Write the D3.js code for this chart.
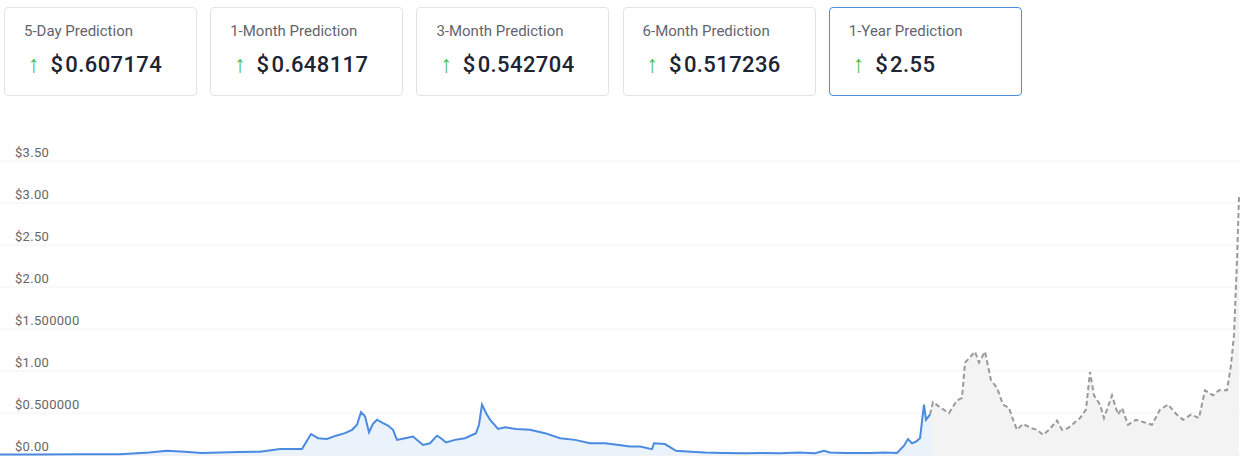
<!DOCTYPE html>
<html><head><meta charset="utf-8">
<script src="https://cdn.jsdelivr.net/npm/d3@7"></script>
<style>
body{margin:0;background:#fff;font-family:Roboto,"Noto Sans",sans-serif;}
.card{position:absolute;top:7px;height:89px;width:193px;border:1px solid #e1e3e6;border-radius:4px;box-sizing:border-box;background:#fff}
.card.sel{border-color:#4a8fdf}
.t{position:absolute;left:19px;top:14px;font-size:15px;color:#5f6570}
.v{position:absolute;left:23px;top:42px;font-size:22px;color:#1d2433;font-weight:500;letter-spacing:0.4px;white-space:nowrap}
.v span{color:#4cbb3c;margin-right:10px;font-weight:400;font-size:24px}
.v b{font-weight:500;margin-right:2px}
</style></head><body>
<div id="cards"></div>
<svg id="chart" width="1242" height="459" style="position:absolute;left:0;top:0"></svg>
<script>
const cardTitles=["5-Day Prediction","1-Month Prediction","3-Month Prediction","6-Month Prediction","1-Year Prediction"];
const cardValues=["0.607174","0.648117","0.542704","0.517236","2.55"];
const yTicks=[0,0.5,1,1.5,2,2.5,3,3.5];
const yTickLabels=["$0.00","$0.500000","$1.00","$1.500000","$2.00","$2.50","$3.00","$3.50"];
// day index, price
const histDays=[0,40,80,120,149,167,185,202,220,238,260,280,302,311,318,327,336,345,352,357,361,365,369,373,377,383,388,393,397,405,413,423,430,437,441,446,455,465,476,479,482,486,490,498,505,516,530,545,560,575,590,605,619,630,640,652,654,665,676,691,705,723,745,763,780,799,815,824,830,845,858,870,885,897,904,908,912,916,920,924,926,930];
const histVals=[0.005,0.005,0.008,0.01,0.03,0.05,0.04,0.025,0.03,0.035,0.04,0.07,0.07,0.25,0.2,0.19,0.23,0.26,0.3,0.36,0.51,0.46,0.27,0.37,0.42,0.38,0.35,0.3,0.18,0.2,0.22,0.12,0.14,0.23,0.2,0.15,0.18,0.2,0.26,0.36,0.6,0.5,0.42,0.31,0.33,0.31,0.3,0.26,0.2,0.18,0.14,0.14,0.12,0.1,0.1,0.07,0.14,0.13,0.05,0.04,0.03,0.025,0.02,0.025,0.02,0.03,0.02,0.05,0.03,0.025,0.025,0.025,0.03,0.025,0.11,0.19,0.14,0.16,0.2,0.6,0.42,0.48];
const fcDays=[930,933,941,949,957,962,965,969,975,979,985,991,997,1003,1009,1013,1017,1023,1031,1037,1043,1049,1057,1062,1068,1080,1086,1090,1094,1100,1104,1112,1118,1122,1128,1136,1144,1152,1160,1168,1176,1183,1191,1199,1205,1213,1219,1227,1231,1234,1237,1239];
const fcVals=[0.48,0.63,0.56,0.5,0.65,0.68,1.1,1.15,1.23,1.1,1.23,0.89,0.8,0.6,0.56,0.42,0.3,0.37,0.32,0.3,0.24,0.3,0.41,0.3,0.32,0.44,0.54,0.99,0.71,0.6,0.44,0.71,0.48,0.56,0.36,0.42,0.39,0.36,0.54,0.6,0.49,0.42,0.48,0.44,0.77,0.71,0.77,0.77,1.07,1.43,2.32,3.07];

const cards=d3.select("#cards");
cardTitles.forEach((t,i)=>{
  const c=cards.append("div").attr("class","card"+(i===4?" sel":"")).style("left",(4+i*206.2)+"px");
  c.append("div").attr("class","t").text(t);
  c.append("div").attr("class","v").html("<span>↑</span><b>$</b>"+cardValues[i]);
});
const svg=d3.select("#chart");
const x=d3.scaleLinear().domain([0,1240]).range([0,1240]);
const y=d3.scaleLinear().domain([0,3.5]).range([455,161]);
yTicks.forEach((v,i)=>{
  svg.append("line").attr("x1",0).attr("x2",1240).attr("y1",y(v)).attr("y2",y(v)).attr("stroke",i===0?"#e6e6e6":"#f2f2f2");
  svg.append("text").attr("x",15).attr("y",y(v)-4).attr("font-size",13).attr("fill","#666").attr("font-family","Roboto").attr("letter-spacing","0.3").text(yTickLabels[i]);
});
const hist=histDays.map((d,i)=>[d,histVals[i]]);
const fc=fcDays.map((d,i)=>[d,fcVals[i]]);
const area=d3.area().x(d=>x(d[0])).y0(y(0)).y1(d=>y(d[1]));
const line=d3.line().x(d=>x(d[0])).y(d=>y(d[1]));
svg.append("path").attr("d",area(fc)).attr("fill","#f3f3f3");
svg.append("path").attr("d",area(hist)).attr("fill","#eaf2fc");
svg.append("path").attr("d",line(fc)).attr("fill","none").attr("stroke","#9a9a9a").attr("stroke-width",2).attr("stroke-dasharray","5,3");
svg.append("path").attr("d",line(hist)).attr("fill","none").attr("stroke","#4a8ae0").attr("stroke-width",2);
</script></body></html>
